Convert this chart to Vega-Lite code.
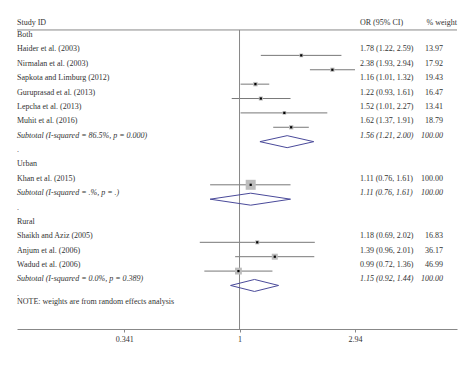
{
  "$schema": "https://vega.github.io/schema/vega-lite/v6.json",
  "width": 440,
  "height": 329,
  "autosize": "none",
  "padding": {"left": 17, "top": 0, "right": 17, "bottom": 36},
  "background": "white",
  "config": {"view": {"stroke": null}, "text": {"font": "Liberation Serif", "fontSize": 8, "color": "#333"}},
  "datasets": {
    "rows": [
      {"row": 0, "label": "Both", "kind": "group"},
      {"row": 1, "label": "Haider et al. (2003)", "kind": "study", "est": 1.78, "lo": 1.22, "hi": 2.59, "ci": "1.78 (1.22, 2.59)", "weight": 13.97, "wt": "13.97"},
      {"row": 2, "label": "Nirmalan et al. (2003)", "kind": "study", "est": 2.38, "lo": 1.93, "hi": 2.94, "ci": "2.38 (1.93, 2.94)", "weight": 17.92, "wt": "17.92"},
      {"row": 3, "label": "Sapkota and Limburg (2012)", "kind": "study", "est": 1.16, "lo": 1.01, "hi": 1.32, "ci": "1.16 (1.01, 1.32)", "weight": 19.43, "wt": "19.43"},
      {"row": 4, "label": "Guruprasad et al. (2013)", "kind": "study", "est": 1.22, "lo": 0.93, "hi": 1.61, "ci": "1.22 (0.93, 1.61)", "weight": 16.47, "wt": "16.47"},
      {"row": 5, "label": "Lepcha et al. (2013)", "kind": "study", "est": 1.52, "lo": 1.01, "hi": 2.27, "ci": "1.52 (1.01, 2.27)", "weight": 13.41, "wt": "13.41"},
      {"row": 6, "label": "Muhit et al. (2016)", "kind": "study", "est": 1.62, "lo": 1.37, "hi": 1.91, "ci": "1.62 (1.37, 1.91)", "weight": 18.79, "wt": "18.79"},
      {"row": 7, "label": "Subtotal (I-squared = 86.5%, p = 0.000)", "kind": "subtotal", "est": 1.56, "lo": 1.21, "hi": 2.0, "ci": "1.56 (1.21, 2.00)", "weight": 100, "wt": "100.00"},
      {"row": 8, "label": ".", "kind": "group"},
      {"row": 9, "label": "Urban", "kind": "group"},
      {"row": 10, "label": "Khan et al. (2015)", "kind": "study", "est": 1.11, "lo": 0.76, "hi": 1.61, "ci": "1.11 (0.76, 1.61)", "weight": 100, "wt": "100.00"},
      {"row": 11, "label": "Subtotal (I-squared = .%, p = .)", "kind": "subtotal", "est": 1.11, "lo": 0.76, "hi": 1.61, "ci": "1.11 (0.76, 1.61)", "weight": 100, "wt": "100.00"},
      {"row": 12, "label": ".", "kind": "group"},
      {"row": 13, "label": "Rural", "kind": "group"},
      {"row": 14, "label": "Shaikh and Aziz (2005)", "kind": "study", "est": 1.18, "lo": 0.69, "hi": 2.02, "ci": "1.18 (0.69, 2.02)", "weight": 16.83, "wt": "16.83"},
      {"row": 15, "label": "Anjum et al. (2006)", "kind": "study", "est": 1.39, "lo": 0.96, "hi": 2.01, "ci": "1.39 (0.96, 2.01)", "weight": 36.17, "wt": "36.17"},
      {"row": 16, "label": "Wadud et al. (2006)", "kind": "study", "est": 0.99, "lo": 0.72, "hi": 1.36, "ci": "0.99 (0.72, 1.36)", "weight": 46.99, "wt": "46.99"},
      {"row": 17, "label": "Subtotal (I-squared = 0.0%, p = 0.389)", "kind": "subtotal", "est": 1.15, "lo": 0.92, "hi": 1.44, "ci": "1.15 (0.92, 1.44)", "weight": 100, "wt": "100.00"},
      {"row": 18, "label": ".", "kind": "group"},
      {"row": 18.55, "label": "NOTE: weights are from random effects analysis", "kind": "note"}
    ]
  },
  "layer": [
    {
      "data": {"name": "rows"},
      "transform": [{"filter": "datum.kind == 'study'"}],
      "mark": {"type": "rule", "color": "#555", "strokeWidth": 0.8, "yOffset": 6},
      "encoding": {
        "x": {"field": "lo", "type": "quantitative", "scale": {"type": "log", "domain": [0.1252, 7.62], "nice": false}, "axis": {"title": null, "values": [0.341, 1, 2.94], "format": ".3~g", "grid": false, "tickSize": 3, "domainColor": "#888", "tickColor": "#888", "domainWidth": 1, "labelFont": "Liberation Serif", "labelFontSize": 8, "labelColor": "#333", "labelPadding": 3}},
        "x2": {"field": "hi"},
        "y": {"field": "row", "type": "quantitative", "scale": {"domain": [-2.434, 20.445], "reverse": true, "nice": false, "zero": false}, "axis": null}
      }
    },
    {
      "data": {"values": [{}]},
      "mark": {"type": "rule", "color": "#888", "strokeWidth": 1},
      "encoding": {
        "x": {"datum": 1, "type": "quantitative"},
        "y": {"datum": -0.35, "type": "quantitative"},
        "y2": {"datum": 20.445}
      }
    },
    {
      "data": {"values": [{}]},
      "mark": {"type": "rule", "color": "#888", "strokeWidth": 1},
      "encoding": {
        "y": {"datum": -0.35, "type": "quantitative"}
      }
    },
    {
      "data": {"name": "rows"},
      "transform": [{"filter": "datum.kind == 'study'"}],
      "mark": {"type": "point", "shape": "square", "filled": true, "color": "#bdbdbd", "opacity": 1, "yOffset": 6},
      "encoding": {
        "x": {"field": "est", "type": "quantitative"},
        "y": {"field": "row", "type": "quantitative"},
        "size": {"field": "weight", "type": "quantitative", "scale": {"type": "linear", "domain": [0, 100], "range": [0, 100]}, "legend": null}
      }
    },
    {
      "data": {"name": "rows"},
      "transform": [{"filter": "datum.kind == 'study'"}],
      "mark": {"type": "point", "shape": "square", "filled": true, "color": "#000", "opacity": 1, "size": 5, "yOffset": 6},
      "encoding": {
        "x": {"field": "est", "type": "quantitative"},
        "y": {"field": "row", "type": "quantitative"}
      }
    },
    {
      "data": {"name": "rows"},
      "transform": [{"filter": "datum.kind == 'subtotal'"}],
      "layer": [
        {"mark": {"type": "rule", "color": "#4a4a9a", "strokeWidth": 1, "yOffset": 6, "y2Offset": 0},
         "encoding": {"x": {"field": "lo", "type": "quantitative"}, "x2": {"field": "est"}, "y": {"field": "row", "type": "quantitative"}, "y2": {"field": "row"}}},
        {"mark": {"type": "rule", "color": "#4a4a9a", "strokeWidth": 1, "yOffset": 0, "y2Offset": 6},
         "encoding": {"x": {"field": "est", "type": "quantitative"}, "x2": {"field": "hi"}, "y": {"field": "row", "type": "quantitative"}, "y2": {"field": "row"}}},
        {"mark": {"type": "rule", "color": "#4a4a9a", "strokeWidth": 1, "yOffset": 6, "y2Offset": 12},
         "encoding": {"x": {"field": "hi", "type": "quantitative"}, "x2": {"field": "est"}, "y": {"field": "row", "type": "quantitative"}, "y2": {"field": "row"}}},
        {"mark": {"type": "rule", "color": "#4a4a9a", "strokeWidth": 1, "yOffset": 12, "y2Offset": 6},
         "encoding": {"x": {"field": "est", "type": "quantitative"}, "x2": {"field": "lo"}, "y": {"field": "row", "type": "quantitative"}, "y2": {"field": "row"}}}
      ]
    },
    {
      "data": {"name": "rows"},
      "transform": [{"filter": "datum.kind != 'subtotal'"}],
      "mark": {"type": "text", "align": "left", "baseline": "middle"},
      "encoding": {
        "x": {"datum": 0.1252, "type": "quantitative"},
        "y": {"field": "row", "type": "quantitative"},
        "text": {"field": "label"}
      }
    },
    {
      "data": {"name": "rows"},
      "transform": [{"filter": "datum.kind == 'subtotal'"}],
      "mark": {"type": "text", "align": "left", "baseline": "middle", "fontStyle": "italic"},
      "encoding": {
        "x": {"datum": 0.1252, "type": "quantitative"},
        "y": {"field": "row", "type": "quantitative"},
        "text": {"field": "label"}
      }
    },
    {
      "data": {"name": "rows"},
      "transform": [{"filter": "datum.kind == 'study'"}],
      "layer": [
        {"mark": {"type": "text", "align": "left", "baseline": "middle"},
         "encoding": {"x": {"datum": 3.08, "type": "quantitative"}, "y": {"field": "row", "type": "quantitative"}, "text": {"field": "ci"}}},
        {"mark": {"type": "text", "align": "right", "baseline": "middle"},
         "encoding": {"x": {"datum": 6.69, "type": "quantitative"}, "y": {"field": "row", "type": "quantitative"}, "text": {"field": "wt"}}}
      ]
    },
    {
      "data": {"name": "rows"},
      "transform": [{"filter": "datum.kind == 'subtotal'"}],
      "layer": [
        {"mark": {"type": "text", "align": "left", "baseline": "middle", "fontStyle": "italic"},
         "encoding": {"x": {"datum": 3.08, "type": "quantitative"}, "y": {"field": "row", "type": "quantitative"}, "text": {"field": "ci"}}},
        {"mark": {"type": "text", "align": "right", "baseline": "middle", "fontStyle": "italic"},
         "encoding": {"x": {"datum": 6.69, "type": "quantitative"}, "y": {"field": "row", "type": "quantitative"}, "text": {"field": "wt"}}}
      ]
    },
    {
      "data": {"values": [{"h": "Study ID", "pos": 0.1252, "al": "left"}, {"h": "OR (95% CI)", "pos": 3.08, "al": "left"}, {"h": "% weight", "pos": 7.62, "al": "right"}]},
      "layer": [
        {"transform": [{"filter": "datum.al == 'left'"}],
         "mark": {"type": "text", "align": "left", "baseline": "middle"},
         "encoding": {"x": {"field": "pos", "type": "quantitative"}, "y": {"datum": -0.834, "type": "quantitative"}, "text": {"field": "h"}}},
        {"transform": [{"filter": "datum.al == 'right'"}],
         "mark": {"type": "text", "align": "right", "baseline": "middle"},
         "encoding": {"x": {"field": "pos", "type": "quantitative"}, "y": {"datum": -0.834, "type": "quantitative"}, "text": {"field": "h"}}}
      ]
    }
  ]
}
